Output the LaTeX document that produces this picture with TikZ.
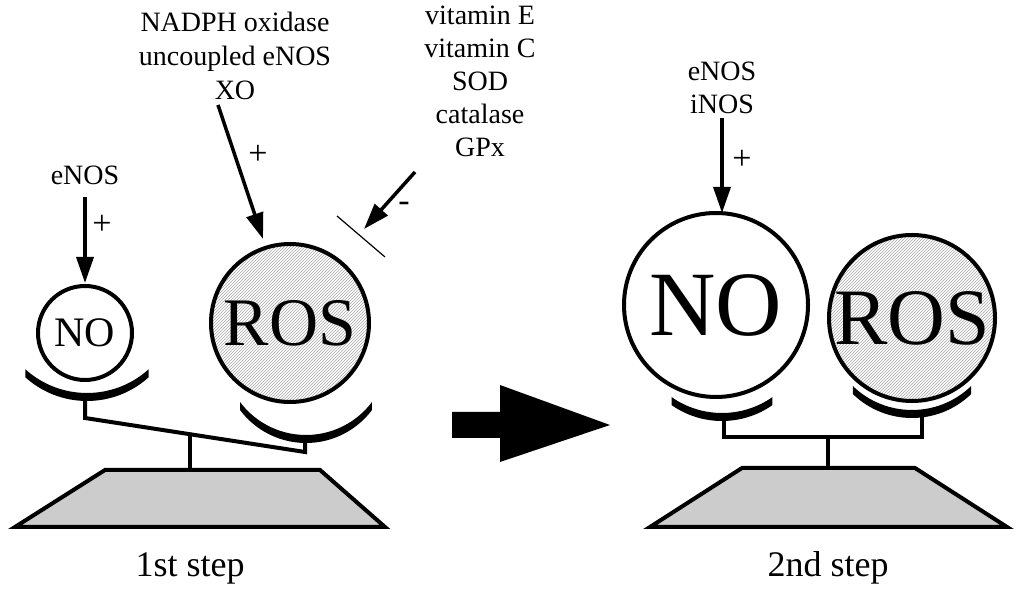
\documentclass[tikz,border=0pt]{standalone}
\usepackage{fontspec}
\setmainfont{Liberation Serif}
\usetikzlibrary{arrows.meta,patterns,calc}
\newcommand\mybowl[5]{\fill ($(#1,#2)+(#4:#3)$) arc[start angle=#4,end angle=#5,radius=#3] -- ($(#1,#2+8)+(#5:#3)$) arc[start angle=#5,end angle=#4,radius=#3] -- cycle;}
\begin{document}
\begin{tikzpicture}[x=1pt,y=1pt,
  lbl/.style={font=\fontsize{28}{33}\selectfont,align=center,inner sep=0},
  sgn/.style={font=\fontsize{34}{36}\selectfont,inner sep=0},
  circ/.style={circle,draw,line width=4pt,inner sep=0},
  arr/.style={line width=3.5pt,-{Triangle[length=26pt,width=17pt]}},
  ln/.style={line width=4pt},
  base/.style={draw,line width=4pt,fill=gray!40,line join=miter}]
\useasboundingbox (0,0) rectangle (1024,591);
% left
\node[circ,minimum size=94pt,font=\fontsize{42}{46}\selectfont] (noL) at (85,258) {NO};
\node[circ,minimum size=158pt,pattern=north east lines,pattern color=gray!70] (rosL) at (290,268) {};
\node[font=\fontsize{68}{74}\selectfont] at (290,268) {ROS};
\mybowl{87}{282}{92}{228}{312}
\mybowl{306}{230.5}{82.5}{217}{323}
\coordinate (b1) at (85,196); \coordinate (b2) at (85,173);
\coordinate (b3) at (305,139); \coordinate (b4) at (305,151);
\draw[ln] (b1) -- (b2) -- (b3) -- (b4);
\coordinate (p1) at (190,156); \coordinate (p2) at (190,121);
\draw[ln] (p1) -- (p2);
\draw[base] (105,121) -- (320,121) -- (385,64) -- (15,64) -- cycle;
\node[font=\fontsize{36}{40}\selectfont] (s1) at (190,23) {1st step};
\node[lbl] (enosL) at (85,416) {eNOS};
\coordinate (e1) at (85,394); \coordinate (e2) at (85,308);
\draw[arr] (e1) -- (e2);
\node[sgn] at (102,366) {+};
\node[lbl] (nadph) at (235,535) {NADPH oxidase\\[1pt]uncoupled eNOS\\[1pt]XO};
\coordinate (n1) at (218,486); \coordinate (n2) at (263,352);
\draw[arr] (n1) -- (n2);
\node[sgn] at (258,436) {+};
\node[lbl] (vit) at (480,510) {vitamin E\\vitamin C\\SOD\\catalase\\GPx};
\coordinate (v1) at (415,419); \coordinate (v2) at (364,362);
\draw[arr] (v1) -- (v2);
\draw[line width=1.2pt] (337,375) -- (385,334);
\node[sgn] at (404,384) {-};
% big arrow
\fill (452,153) -- (500,153) -- (500,206) -- (610,166) -- (500,129) -- (500,179) -- (452,179) -- cycle;
% right
\node[circ,minimum size=184pt,font=\fontsize{92}{96}\selectfont] (noR) at (716,286) {NO};
\node[circ,minimum size=166pt,pattern=north east lines,pattern color=gray!70] (rosR) at (912,273) {};
\node[font=\fontsize{80}{86}\selectfont] at (912,273) {ROS};
\mybowl{722}{258}{88}{235}{305}
\mybowl{912}{258}{85}{226}{314}
\coordinate (r1) at (724,176); \coordinate (r2) at (724,154);
\coordinate (r3) at (922,154); \coordinate (r4) at (922,176);
\draw[ln] (r1) -- (r2) -- (r3) -- (r4);
\coordinate (q1) at (828,154); \coordinate (q2) at (828,123);
\draw[ln] (q1) -- (q2);
\draw[base] (742,123) -- (915,123) -- (1007,64) -- (650,64) -- cycle;
\node[font=\fontsize{36}{40}\selectfont] (s2) at (828,23) {2nd step};
\node[lbl] (enosR) at (722,503) {eNOS\\iNOS};
\coordinate (f1) at (722,473); \coordinate (f2) at (722,378);
\draw[arr] (f1) -- (f2);
\node[sgn] at (742,431) {+};
\end{tikzpicture}
\end{document}
